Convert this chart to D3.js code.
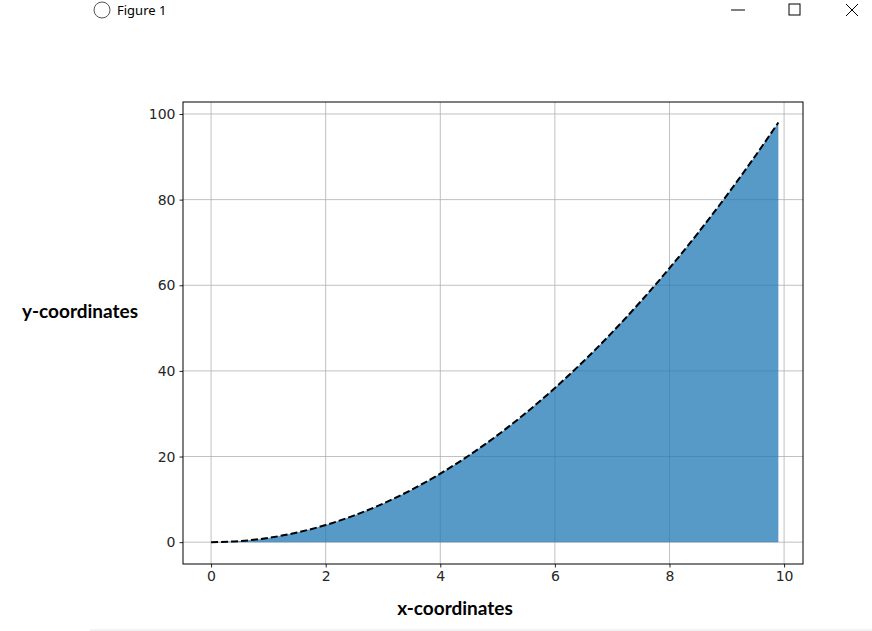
<!DOCTYPE html>
<html><head><meta charset="utf-8">
<script src="https://cdn.jsdelivr.net/npm/d3@7"></script>
<style>body{margin:0;background:#fff}svg{display:block}</style>
</head><body>
<svg id="chart" width="872" height="631"></svg>
<script>
// values
var xValues = [0, 0.5, 1, 1.5, 2, 2.5, 3, 3.5, 4, 4.5, 5, 5.5, 6, 6.5, 7, 7.5, 8, 8.5, 9, 9.5, 9.9];
var yValues = [0, 0.25, 1, 2.25, 4, 6.25, 9, 12.25, 16, 20.25, 25, 30.25, 36, 42.25, 49, 56.25, 64, 72.25, 81, 90.25, 98];
var xTicks = [0, 2, 4, 6, 8, 10];
var yTicks = [0, 20, 40, 60, 80, 100];

var svg = d3.select("#chart");
var plotLeft = 183, plotRight = 803, plotTop = 102, plotBottom = 564;

var x = d3.scaleLinear().domain([-0.49, 10.33]).range([plotLeft, plotRight]);
var y = d3.scaleLinear().domain([-5.1, 102.8]).range([plotBottom, plotTop]);

// window chrome
svg.append("circle").attr("cx", 102).attr("cy", 10).attr("r", 8).attr("fill", "none").attr("stroke", "#555");
svg.append("text").attr("x", 117).attr("y", 15).attr("font-family", "Segoe UI, Noto Sans, sans-serif").attr("font-size", 13).text("Figure 1");
svg.append("line").attr("x1", 731).attr("x2", 745).attr("y1", 10).attr("y2", 10).attr("stroke", "#000");
svg.append("rect").attr("x", 789).attr("y", 4).attr("width", 11).attr("height", 11).attr("fill", "none").attr("stroke", "#000");
svg.append("path").attr("d", "M846,4L858,16M858,4L846,16").attr("stroke", "#000");
svg.append("line").attr("x1", 90).attr("x2", 872).attr("y1", 630).attr("y2", 630).attr("stroke", "#e5e5e5");

var data = xValues.map(function(v, i) { return [v, yValues[i]]; });

// grid
svg.append("g").selectAll("line").data(xTicks).join("line")
  .attr("x1", d => x(d)).attr("x2", d => x(d)).attr("y1", plotTop).attr("y2", plotBottom)
  .attr("stroke", "#b0b0b0").attr("stroke-width", 0.8);
svg.append("g").selectAll("line").data(yTicks).join("line")
  .attr("y1", d => y(d)).attr("y2", d => y(d)).attr("x1", plotLeft).attr("x2", plotRight)
  .attr("stroke", "#b0b0b0").attr("stroke-width", 0.8);

var area = d3.area().x(d => x(d[0])).y0(y(0)).y1(d => y(d[1])).curve(d3.curveMonotoneX);
svg.append("path").datum(data).attr("d", area).attr("fill", "#1f77b4").attr("fill-opacity", 0.75);

var line = d3.line().x(d => x(d[0])).y(d => y(d[1])).curve(d3.curveMonotoneX);
svg.append("path").datum(data).attr("d", line).attr("fill", "none")
  .attr("stroke", "#000").attr("stroke-width", 2).attr("stroke-dasharray", "7,3");

// axes
var xAxis = svg.append("g").attr("transform", "translate(0," + plotBottom + ")")
  .call(d3.axisBottom(x).tickValues(xTicks).tickSize(3.5).tickPadding(4));
var yAxis = svg.append("g").attr("transform", "translate(" + plotLeft + ",0)")
  .call(d3.axisLeft(y).tickValues(yTicks).tickSize(3.5).tickPadding(4));
[xAxis, yAxis].forEach(function(a) {
  a.select(".domain").remove();
  a.attr("font-family", "DejaVu Sans").attr("font-size", 14);
  a.selectAll("text").attr("fill", "#262626");
  a.selectAll("line").attr("stroke", "#262626");
});
svg.append("rect").attr("x", plotLeft).attr("y", plotTop).attr("width", plotRight - plotLeft).attr("height", plotBottom - plotTop)
  .attr("fill", "none").attr("stroke", "#000").attr("stroke-width", 1);

svg.append("text").attr("x", 455).attr("y", 615).attr("text-anchor", "middle")
  .attr("font-family", "Lato, Noto Sans, sans-serif").attr("font-weight", "bold").attr("font-size", 19).text("x-coordinates");
svg.append("text").attr("x", 22).attr("y", 318)
  .attr("font-family", "Lato, Noto Sans, sans-serif").attr("font-weight", "bold").attr("font-size", 19).text("y-coordinates");
</script>
</body></html>
